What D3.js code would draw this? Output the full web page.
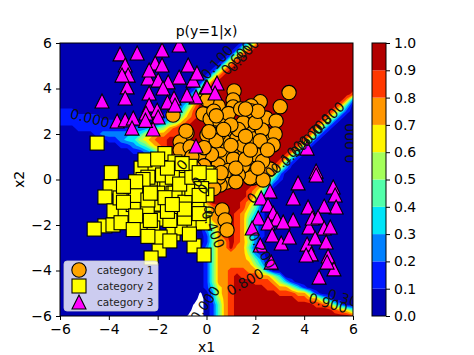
<!DOCTYPE html>
<html>
<head>
<meta charset="utf-8">
<script src="https://cdn.jsdelivr.net/npm/d3@7"></script>
<style>
    html, body { margin: 0; padding: 0; background: #fff; }
    text { font-family: "DejaVu Sans", sans-serif; }
</style>
</head>
<body>
<svg id="chart" width="474" height="355"></svg>
<script>
/**
 * Data.
 */
const xTicks = [-6, -4, -2, 0, 2, 4, 6],
    yTicks = [-6, -4, -2, 0, 2, 4, 6],
    levels = [0, 0.1, 0.2, 0.3, 0.4, 0.5, 0.6, 0.7, 0.8, 0.9, 1],
    categories = ['category 1', 'category 2', 'category 3'];

const bandColors = ['#0000b2', '#0019ff', '#0080ff', '#00e5f8', '#52ffaa', '#a4ff5a', '#fff500', '#ff9600', '#ff3800', '#b20000'];

// One row per y = 6, 5.75, ... -6. Each token is startColumn:band, columns are x = -6, -5.75, ... 6.
// A dot or comma means no value (a comma sits closer to the filled side)
const bandRows = [
    '0:0 30:1 31:3 32:6 33:9',
    '0:0 29:1 30:4 31:7 32:9',
    '0:0 28:1 29:5 30:8 31:9',
    '0:0 27:1 28:5 29:8 30:9',
    '0:0 26:1 27:5 28:8 29:9',
    '0:0 25:1 26:5 27:8 28:9',
    '0:0 24:1 25:5 26:8 27:9',
    '0:0 23:1 24:5 25:8 26:9',
    '0:0 22:1 23:4 24:7 25:9',
    '0:0 21:1 22:3 23:6 24:8 25:9 48:8',
    '0:0 20:1 21:2 22:5 23:7 24:9 47:7 48:2',
    '0:0 19:1 20:2 21:4 22:7 23:9 46:7 47:3 48:0',
    '0:1 3:0 18:1 19:2 20:3 21:6 22:8 23:9 45:7 46:4 47:1 48:0',
    '0:1 7:0 17:1 18:2 19:3 20:5 21:7 22:8 23:9 44:7 45:4 46:1 47:0',
    '0:1 12:0 16:1 17:2 18:4 19:5 20:7 21:8 22:9 43:7 44:4 45:1 46:0',
    '0:0 3:1 12:2 15:3 16:4 17:5 18:7 19:8 20:9 42:7 43:4 44:1 45:0',
    '0:0 6:1 7:2 12:3 14:5 15:6 16:7 18:8 20:9 41:8 42:4 43:1 44:0',
    '0:0 8:1 10:2 11:3 13:5 14:6 15:7 16:8 18:9 40:8 41:5 42:1 43:0',
    '0:0 10:1 12:2 13:3 14:4 15:6 16:7 17:8 18:9 39:8 40:5 41:1 42:0',
    '0:0 12:1 14:2 15:3 16:5 17:7 18:8 19:9 38:8 39:4 40:1 41:0',
    '0:0 14:1 16:3 17:5 18:7 19:8 20:9 37:8 38:4 39:1 40:0',
    '0:0 17:1 18:4 19:7 20:9 36:8 37:4 38:1 39:0',
    '0:0 18:1 19:4 20:7 21:9 35:8 36:6 37:2 38:0',
    '0:0 18:1 19:3 20:6 21:8 22:9 34:8 35:6 36:2 37:0',
    '0:0 19:1 20:4 21:7 22:9 33:8 34:6 35:3 36:1 37:0',
    '0:0 20:2 21:5 22:7 23:9 32:8 33:7 34:4 35:1 36:0',
    '0:0 21:2 22:5 23:8 24:9 31:8 32:7 33:5 34:2 35:0',
    '0:0 21:1 22:4 23:7 24:9 31:8 32:6 33:4 34:1 35:0',
    '0:0 22:2 23:5 24:7 25:9 30:8 31:7 32:5 33:2 34:1 35:0',
    '0:0 22:1 23:3 24:5 25:7 26:8 27:9 30:8 31:6 32:4 33:1 34:0',
    '0:0 22:1 23:3 24:5 25:7 26:8 27:9 29:8 30:7 31:5 32:3 33:1 34:0',
    '0:0 23:2 24:4 25:7 26:7 27:8 28:9 29:8 30:7 31:4 32:2 33:1 34:0',
    '0:0 24:2 25:5 26:7 27:9 29:8 30:7 31:4 32:2 33:1 34:0',
    '0:0 24:2 25:4 26:7 27:8 28:9 29:8 30:7 31:4 32:2 33:1 34:0',
    '0:0 24:1 25:4 26:7 27:8 28:9 29:8 30:7 31:4 32:2 33:1 34:0',
    '0:0 24:1 25:4 26:7 28:9 29:8 30:7 31:5 32:2 33:0',
    '0:0 24:2 25:4 26:7 28:9 29:7 31:4 32:1 33:0',
    '0:0 24:1 25:4 26:7 31:5 32:2 33:1 34:0',
    '0:0 24:1 25:4 26:7 31:6 32:4 33:2 34:0',
    '0:0 24:1 25:4 26:7 32:5 33:3 34:1 35:0',
    '0:0 24:1 25:4 26:7 28:8 31:7 33:5 34:2 35:0',
    '0:0 24:1 25:4 26:7 28:8 29:9 30:8 33:7 35:5 36:3 37:0',
    '0:0 24:1 25:4 26:7 28:8 29:9 32:8 35:7 36:5 37:3 38:1 39:0',
    '0:0 24:1 25:3 26:6 27:7 28:8 29:9 34:8 36:7 38:5 39:3 40:1 41:0',
    '0:0 23:, 24:0 25:2 26:6 27:7 28:8 29:9 36:8 39:7 41:4 42:1 43:0',
    '0:0 23:. 24:0 25:2 26:5 27:7 28:8 29:9 39:8 41:7 43:4 44:2 45:0',
    '0:0 22:, 23:. 24:0 25:1 26:4 27:7 28:8 29:9 42:8 44:7 45:4 46:2 47:0',
    '0:0 22:. 24:0 25:1 26:4 27:7 28:8 29:9 45:8 46:7 47:6 48:4',
    '0:0 21:, 22:. 24:0 25:1 26:4 27:7 28:8 29:9 47:9 48:8'
];

const category1 = [
    [3.38, 3.82], [3.02, 3.2], [2.2, 3.42], [1.13, 3.89], [1.09, 3.5], [1.09, 3.19], [0.48, 3.23], [-0.14, 2.88],
    [1.83, 3.23], [1.83, 3.01], [2.44, 2.7], [2.85, 2.57], [0.76, 2.75], [0.15, 2.66], [0.56, 2.48], [1.7, 2.26],
    [0.35, 2.04], [0.07, 1.52], [0.97, 2.0], [1.25, 1.82], [1.95, 1.78], [2.44, 2.0], [2.81, 2.0], [2.28, 2.18],
    [2.2, 1.34], [2.73, 1.52], [1.13, 1.3], [0.84, 0.95], [0.35, 1.34], [1.87, 0.86], [1.58, 1.16], [1.75, 0.37],
    [2.6, 0.46], [1.38, 0.55], [0.48, 0.55], [0.89, 0.07], [1.9, 0.07], [0.02, 0.95], [-0.8, 2.04], [-1.08, 1.65],
    [0.56, 1.3], [0.48, 0.64], [0.97, -0.02], [0.64, -1.34], [0.35, 1.95], [-1.08, 1.3], [-1.37, 2.83], [-0.84, 2.13],
    [-0.67, 1.43], [0.02, 1.96], [-0.39, 0.86], [0.02, 3.5], [0.76, -1.78], [0.84, -2.22], [0.84, -0.11], [1.79, 0.07],
    [0.56, -0.24], [2.32, -0.02], [1.5, 2.5], [0.9, 2.9], [0.3, 3.0], [1.4, 3.1], [2.0, 2.5], [1.3, 2.2], [0.7, 1.7],
    [0.2, 1.1], [1.1, 0.9], [1.5, 0.6], [0.2, 0.3], [0.9, 0.4], [1.3, 0.2], [0.5, 0.1], [-0.3, 1.1], [-0.3, 0.3],
    [-0.1, 0.6], [-0.5, 0.5], [-0.6, 1.0], [-0.2, 0.0], [0.3, -0.4], [1.2, -0.1], [1.5, 1.5], [2.0, 1.1], [2.3, 0.8],
    [0.5, 2.0], [1.0, 2.4], [1.6, 1.9], [2.2, 1.7], [0.4, 1.7], [1.0, 1.5], [1.6, 0.9], [2.1, 0.5], [1.2, 0.5],
    [0.6, 0.3], [-0.1, 1.4], [2.5, 1.3], [1.8, 1.3], [0.7, 2.2], [0.1, 2.1], [2.1, 3.0], [1.6, 3.1], [0.4, 2.8]
];

const category2 = [
    [-4.48, 1.6], [-3.9, 0.3], [-1.7, 1.14], [-1.29, 0.77], [-2.15, 0.64], [-2.68, 0.5], [-2.52, 0.86], [-0.67, 0.58],
    [0.02, 0.28], [0.15, 0.15], [-1.7, -0.24], [-0.39, -0.11], [0.02, -0.68], [-1.16, 0.33], [-1.9, -1.12], [-0.39, -1.0],
    [-1.16, -1.43], [-2.2, -0.24], [-1.37, -0.6], [-0.88, -0.77], [-3.95, -0.33], [-4.16, -0.77], [-2.72, -0.37],
    [-3.25, -0.68], [-2.6, -0.99], [-1.86, -1.08], [-3.79, -1.38], [-3.13, -1.87], [-4.16, -2.04], [-4.6, -2.18],
    [-1.94, -1.74], [-2.2, -2.13], [-1.37, -2.39], [-1.0, -2.13], [-0.51, -1.91], [-0.14, -1.91], [-1.94, -3.1],
    [-2.27, -3.45], [-0.51, -2.92], [-0.1, -3.32], [-2.72, -2.0], [-3.83, -2.0], [-3.54, -0.81], [-2.3, -0.24],
    [-1.29, -0.6], [-0.88, -1.0], [-1.9, -2.53], [-3.33, -1.43], [-2.43, -1.43], [-1.8, 0.2], [-2.4, 0.1], [-0.9, 0.0],
    [-3.0, -1.1], [-1.5, -1.8], [-0.6, -0.4], [-3.1, -0.3], [-2.0, -0.6], [-1.4, 0.1],
    [-2.9, -0.7], [-2.4, -0.9], [-3.4, -1.0], [-2.9, -1.6], [-2.3, -1.8], [-1.6, -1.4], [-0.9, -1.7], [-0.3, -1.5],
    [-0.7, -2.4], [-1.5, -2.7], [-1.7, -0.8], [-1.1, -0.2], [-0.6, 0.1], [-0.2, -0.4], [-1.6, 0.5], [-1.0, 0.7],
    [-2.0, 0.9], [-2.6, 0.0], [-2.9, -0.1], [-3.4, -0.3], [-3.5, -1.9], [-2.4, -2.5], [-0.3, 0.3], [-0.9, -1.3],
    [-0.3, -0.7], [-1.4, -1.1], [-2.3, -0.6], [-3.0, -2.2]
];

const category3 = [
    [-3.54, 5.52], [-2.84, 5.56], [-1.82, 5.69], [-1.12, 5.91], [-3.33, 5.03], [-2.1, 5.12], [-1.82, 5.03], [-3.21, 4.59],
    [-0.75, 5.03], [-2.39, 4.46], [-1.98, 4.37], [-1.12, 4.5], [-0.55, 4.37], [-1.57, 4.29], [-0.39, 4.68], [-0.02, 4.07],
    [-3.25, 4.07], [-2.35, 3.8], [-1.78, 4.02], [-3.33, 3.58], [-4.28, 3.45], [-2.35, 3.27], [-1.33, 3.58], [-0.43, 3.63],
    [-0.8, 3.71], [-1.6, 3.4], [-1.29, 3.27], [-2.02, 3.05], [-2.48, 2.92], [-1.98, 2.75], [-3.66, 2.57], [-3.33, 2.62],
    [-3.0, 2.7], [-3.05, 2.26], [-2.19, 2.22], [-2.5, 2.6], [-0.43, 1.47], [-2.35, 4.81], [-3.46, 4.59], [0.43, 4.24],
    [0.02, 4.07], [0.35, 3.8], [4.12, 1.38], [4.49, 0.37], [3.75, -0.15], [4.49, 0.2], [5.19, -0.33], [5.27, -0.68],
    [5.31, -1.21], [4.82, -1.17], [3.55, -0.81], [4.16, -1.21], [2.6, -0.51], [2.24, -0.81], [2.52, -1.12], [2.12, -1.69],
    [1.87, -2.13], [2.73, -1.47], [2.89, -1.74], [2.52, -1.91], [3.55, -1.78], [3.14, -1.87], [2.69, -2.44], [3.06, -2.79],
    [3.39, -2.53], [2.2, -2.88], [2.65, -3.63], [4.2, -2.09], [4.33, -1.69], [4.57, -1.65], [4.82, -2.13], [5.07, -2.09],
    [4.12, -2.84], [4.45, -2.57], [4.9, -2.75], [4.29, -3.27], [4.98, -3.36], [5.22, -3.93], [4.61, -4.29], [4.08, -3.32],
    [4.94, -3.63]
];

// text, x, y, rotation
const contourLabels = [
    ['0.000', -4.77, 2.7, 14], ['0.800', 1.58, -4.5, -30], ['0.900', 4.98, -5.43, 16], ['0.300', 5.76, -5.25, 16],
    ['0.000', -0.06, -5.47, -55], ['0.400', 0.27, -2.18, 68], ['0.200', 2.28, -3.1, 60], ['0.000', 5.89, 1.6, -90],
    ['0.100', 0.43, 5.16, -48], ['0.600', 1.25, 5.34, -48], ['0.800', 1.5, 5.47, -48],
    ['0.100', 3.3, 0.99, -45], ['0.300', 3.71, 1.3, -45], ['0.600', 4.12, 1.74, -45], ['0.700', 4.45, 2.18, -45],
    ['0.800', 4.98, 2.7, -45], ['0', 2.6, 0.33, -45], ['0', 1.87, -0.81, -45], ['0', -1.0, 0.64, -50],
    ['0', -0.39, -0.11, -50], ['0', -0.14, -0.42, -50], ['0', 0.11, -1.34, -80]
];

/**
 * Visual configs.
 */
const margin = { top: 43, right: 121, bottom: 39, left: 60 },
    visWidth = 474, visHeight = 355,
    width = visWidth - margin.left - margin.right,
    height = visHeight - margin.top - margin.bottom,
    barLeft = 372, barWidth = 14,
    circleRadius = 7.2,
    squareSize = 14,
    triangleSize = 14;

/**
 * D3.
 */
const xScale = d3.scaleLinear().domain([-6, 6]).range([0, width]),
    yScale = d3.scaleLinear().domain([-6, 6]).range([height, 0]),
    barScale = d3.scaleLinear().domain([0, 1]).range([height, 0]);

const svg = d3.select('#chart');

svg.append('defs').append('clipPath').attr('id', 'plot-clip')
    .append('rect').attr('width', width).attr('height', height);

const plot = svg.append('g').attr('transform', 'translate(' + margin.left + ',' + margin.top + ')');
const inside = plot.append('g').attr('clip-path', 'url(#plot-clip)');

/**
 * Filled contours.
 */
const noValue = { '.': -0.05, ',': -0.01 };

function expandRow(row) {
    const cells = new Array(49);
    const tokens = row.split(' ').map(t => t.split(':'));
    tokens.forEach((t, i) => {
        const end = i + 1 < tokens.length ? +tokens[i + 1][0] : 49;
        for (let c = +t[0]; c < end; c++) cells[c] = t[1] in noValue ? noValue[t[1]] : (+t[1] + 0.5) / 10;
    });
    return cells;
}

const grid = bandRows.flatMap(expandRow);
const contours = d3.contours().size([49, 49]).thresholds(levels.slice(0, -1))(grid);

// Grid values sit at cell centres
const gridPath = d3.geoPath(d3.geoTransform({
    point: function(cx, cy) {
        this.stream.point(xScale((cx - 0.5) * 0.25 - 6), yScale(6 - (cy - 0.5) * 0.25));
    }
}));

inside.selectAll('.band').data(contours).enter().append('path')
    .attr('class', 'band')
    .attr('d', gridPath)
    .attr('fill', (d, i) => bandColors[i]);

/**
 * Markers.
 */
const markerStyle = selection => selection.attr('stroke', '#000').attr('stroke-width', 1.1);
const trianglePath = 'M0,' + (-triangleSize / 2) + 'L' + (triangleSize / 2) + ',' + (triangleSize / 2) + 'L' + (-triangleSize / 2) + ',' + (triangleSize / 2) + 'Z';

function drawCircle(selection) {
    selection.append('circle').attr('r', circleRadius).attr('fill', '#ffa500').call(markerStyle);
}

function drawSquare(selection) {
    selection.append('rect')
        .attr('x', -squareSize / 2).attr('y', -squareSize / 2)
        .attr('width', squareSize).attr('height', squareSize)
        .attr('fill', '#ffff00').call(markerStyle);
}

function drawTriangle(selection) {
    selection.append('path').attr('d', trianglePath).attr('fill', '#ff00ff').call(markerStyle);
}

const markerDrawers = [drawCircle, drawSquare, drawTriangle];

[category1, category2, category3].forEach((points, i) => {
    inside.append('g').selectAll('g').data(points).enter().append('g')
        .attr('transform', d => 'translate(' + xScale(d[0]) + ',' + yScale(d[1]) + ')')
        .call(markerDrawers[i]);
});

/**
 * Contour labels.
 */
inside.selectAll('.contour-label').data(contourLabels).enter().append('text')
    .attr('class', 'contour-label')
    .attr('transform', d => 'translate(' + xScale(d[1]) + ',' + yScale(d[2]) + ') rotate(' + d[3] + ')')
    .attr('text-anchor', 'middle')
    .attr('dy', '0.36em')
    .attr('font-size', 14)
    .attr('fill', '#111')
    .text(d => d[0]);

/**
 * Legend.
 */
const legend = plot.append('g').attr('transform', 'translate(4,218)');
legend.append('rect')
    .attr('width', 94).attr('height', 50).attr('rx', 3)
    .attr('fill', '#fff').attr('fill-opacity', 0.8)
    .attr('stroke', '#ccc').attr('stroke-opacity', 0.8);

const legendRows = legend.selectAll('.row').data(categories).enter().append('g')
    .attr('class', 'row')
    .attr('transform', (d, i) => 'translate(15,' + (9 + i * 16) + ')');
legendRows.each(function(d, i) {
    d3.select(this).call(markerDrawers[i]);
});
legendRows.append('text')
    .attr('x', 18).attr('dy', '0.36em')
    .attr('font-size', 10.5)
    .attr('fill', '#222')
    .text(d => d);

/**
 * Axes.
 */
function styleAxis(selection) {
    selection.selectAll('.domain').remove();
    selection.selectAll('text').attr('font-size', 14).attr('fill', '#000').attr('font-family', '"DejaVu Sans", sans-serif');
}

plot.append('g').attr('transform', 'translate(0,' + height + ')')
    .call(d3.axisBottom(xScale).tickValues(xTicks).tickSize(4).tickPadding(4))
    .call(styleAxis);
plot.append('g')
    .call(d3.axisLeft(yScale).tickValues(yTicks).tickSize(4).tickPadding(4))
    .call(styleAxis);
plot.append('rect')
    .attr('width', width).attr('height', height)
    .attr('fill', 'none').attr('stroke', '#000').attr('stroke-width', 1);

plot.append('text')
    .attr('x', width / 2).attr('y', -7).attr('text-anchor', 'middle')
    .attr('font-size', 14).text('p(y=1|x)');
plot.append('text')
    .attr('x', width / 2).attr('y', height + 36).attr('text-anchor', 'middle')
    .attr('font-size', 14).text('x1');
plot.append('text')
    .attr('transform', 'translate(-36,' + (height / 2) + ') rotate(-90)').attr('text-anchor', 'middle')
    .attr('font-size', 14).text('x2');

/**
 * Colorbar.
 */
const bar = svg.append('g').attr('transform', 'translate(' + barLeft + ',' + margin.top + ')');
bar.selectAll('.level').data(levels.slice(0, -1)).enter().append('rect')
    .attr('class', 'level')
    .attr('y', (d, i) => barScale(levels[i + 1]))
    .attr('width', barWidth)
    .attr('height', (d, i) => barScale(d) - barScale(levels[i + 1]))
    .attr('fill', (d, i) => bandColors[i]);
bar.append('g').attr('transform', 'translate(' + barWidth + ',0)')
    .call(d3.axisRight(barScale).tickValues(levels).tickFormat(d3.format('.1f')).tickSize(4).tickPadding(4))
    .call(styleAxis);
bar.append('rect')
    .attr('width', barWidth).attr('height', height)
    .attr('fill', 'none').attr('stroke', '#000').attr('stroke-width', 1);
</script>
</body>
</html>
